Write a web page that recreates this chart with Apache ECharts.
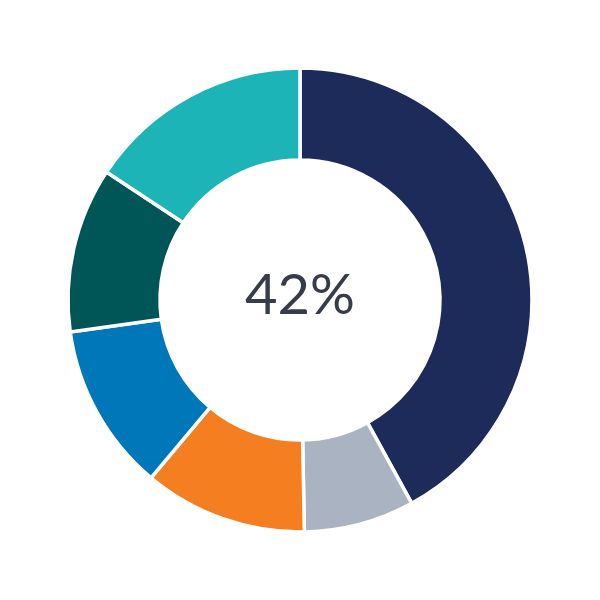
<!DOCTYPE html>
<html><head><meta charset="utf-8">
<script src="https://cdn.jsdelivr.net/npm/echarts@6/dist/echarts.min.js"></script>
<style>html,body{margin:0;padding:0;background:#fff}#c{width:600px;height:600px}</style>
</head><body><div id="c"></div>
<script>
const categories = ['A','B','C','D','E','F'];
const values = [42, 7.7, 11.4, 11.7, 11.5, 15.7];
const colors = ['#1c2b5a','#a9b3c1','#f47e20','#0077b8','#005657','#1db4b8'];
const centerText = '42%';

const chart = echarts.init(document.getElementById('c'));
chart.setOption({
  animation: false,
  graphic: [{
    type: 'text', left: 'center', top: 268,
    style: { text: centerText, fontSize: 56, fontWeight: 'normal', fontFamily: 'Lato, Roboto, sans-serif', fill: '#373c49' }
  }],
  series: [{
    type: 'pie',
    center: [300, 300],
    radius: [140, 232],
    startAngle: 90,
    clockwise: true,
    label: { show: false },
    labelLine: { show: false },
    itemStyle: { borderColor: '#fff', borderWidth: 3.5 },
    emphasis: { disabled: true },
    data: categories.map((c, i) => ({ name: c, value: values[i], itemStyle: { color: colors[i] } }))
  }]
});
</script></body></html>
